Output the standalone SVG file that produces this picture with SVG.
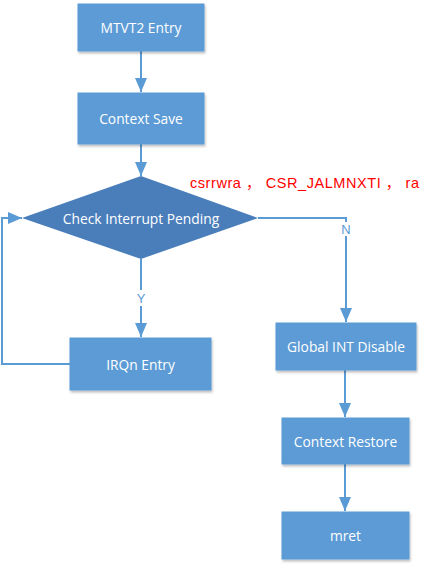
<svg xmlns="http://www.w3.org/2000/svg" width="429" height="571" viewBox="0 0 429 571">
<style>
.box{fill:#5B9BD5;stroke:#5B9BD5;stroke-width:1}
.dia{fill:#4A7EBB}
.lbl{font-family:"Open Sans","Noto Sans",sans-serif;font-size:13.8px;fill:#ffffff;text-anchor:middle;dominant-baseline:central}
.edge{fill:none;stroke:#5B9BD5;stroke-width:2}
.yn{font-family:"Liberation Sans",Arial,sans-serif;font-size:13px;fill:#5B9BD5;text-anchor:middle;dominant-baseline:central}
.red{font-family:"Liberation Sans","Noto Sans CJK SC",sans-serif;font-size:14.5px;fill:#FF0000}
</style>
<defs>
<filter id="sh" x="-10%" y="-10%" width="130%" height="140%"><feDropShadow dx="1" dy="2" stdDeviation="1.2" flood-color="#000" flood-opacity="0.25"/></filter>
<marker id="ah" markerUnits="userSpaceOnUse" markerWidth="14" markerHeight="14" viewBox="0 0 14 12" refX="14" refY="6" orient="auto"><path d="M0,0 L14,6 L0,12 Z" fill="#5B9BD5"/></marker>
</defs>
<g id="connectors">
<line class="edge" x1="141" y1="51" x2="141" y2="92" marker-end="url(#ah)"/>
<line class="edge" x1="141" y1="144" x2="141" y2="176" marker-end="url(#ah)"/>
<polyline class="edge" points="258,218 346,218 346,222"/>
<line class="edge" x1="346" y1="236" x2="346" y2="322" marker-end="url(#ah)"/>
<line class="edge" x1="141" y1="259" x2="141" y2="290"/>
<line class="edge" x1="141" y1="306" x2="141" y2="337" marker-end="url(#ah)"/>
<polyline class="edge" points="70,364 2,364 2,218 22,218" marker-end="url(#ah)"/>
<line class="edge" x1="345" y1="370" x2="345" y2="417" marker-end="url(#ah)"/>
<line class="edge" x1="345" y1="464" x2="345" y2="511" marker-end="url(#ah)"/>
<text class="yn" x="346" y="229">N</text>
<text class="yn" x="141" y="298">Y</text>
</g>
<g id="n_mtvt2">
<rect class="box" x="78" y="4" width="126" height="47" filter="url(#sh)"/>
<text class="lbl" x="141" y="27.5">MTVT2 Entry</text>
</g>
<g id="n_save">
<rect class="box" x="78" y="93" width="126" height="51" filter="url(#sh)"/>
<text class="lbl" x="141" y="118.5">Context Save</text>
</g>
<g id="n_check">
<polygon class="dia" points="141,176 258,218 141,259 22,218"/>
<text class="lbl" x="141" y="218">Check Interrupt Pending</text>
</g>
<g id="n_note">
<text class="red" x="190" y="188" textLength="229" lengthAdjust="spacing">csrrwra ， CSR_JALMNXTI ， ra</text>
</g>
<g id="n_irq">
<rect class="box" x="70" y="338" width="141" height="52" filter="url(#sh)"/>
<text class="lbl" x="140.5" y="364">IRQn Entry</text>
</g>
<g id="n_gid">
<rect class="box" x="276" y="323" width="140" height="47" filter="url(#sh)"/>
<text class="lbl" x="346" y="346.5">Global INT Disable</text>
</g>
<g id="n_restore">
<rect class="box" x="282" y="418" width="127" height="46" filter="url(#sh)"/>
<text class="lbl" x="345.5" y="441">Context Restore</text>
</g>
<g id="n_mret">
<rect class="box" x="282" y="512" width="127" height="47" filter="url(#sh)"/>
<text class="lbl" x="345.5" y="535.5">mret</text>
</g>
</svg>
